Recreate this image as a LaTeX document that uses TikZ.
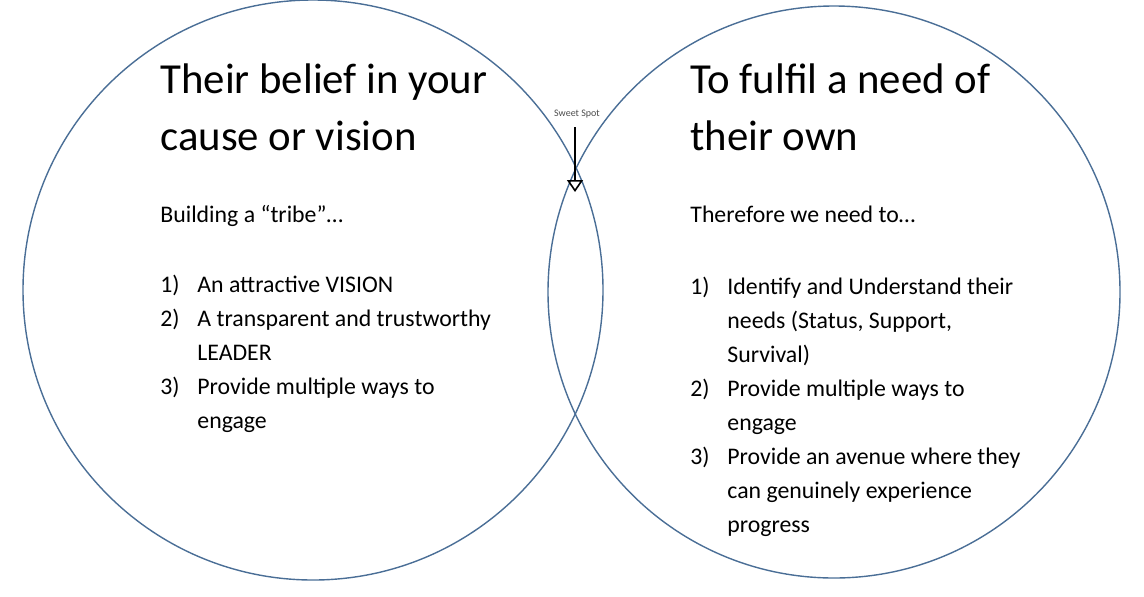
\documentclass[tikz,border=0pt]{standalone}
\usepackage{fontspec}
\setmainfont{Carlito}
\usetikzlibrary{positioning, arrows.meta}
\definecolor{ringblue}{RGB}{74,110,150}
\tikzset{
  ring/.style={draw=ringblue, line width=0.7pt},
  head/.style={anchor=base west, align=left, inner sep=0pt, font=\fontsize{21.4}{28.5}\selectfont},
  body/.style={anchor=base west, align=left, inner sep=0pt, font=\fontsize{11.9}{17}\selectfont},
}
\begin{document}
\begin{tikzpicture}[x=0.5pt, y=-0.5pt]
    \useasboundingbox (0, 0) rectangle (1144, 596);
    \path (313, 290) node[ring, circle, minimum size=290pt, inner sep=0pt](Belief){};
    \path (834, 292) node[ring, circle, minimum size=286pt, inner sep=0pt](Need){};
    % left circle
    \path (160, 150) node[head](BeliefHead){Their belief in your\\cause or vision};
    \path (160, 222) node[body](Tribe){Building a “tribe”…};
    \path (160, 394) node[body](LNum){1)\\2)\\\\3)};
    \path (197, 428) node[body](LItems){An attractive VISION\\A transparent and trustworthy\\LEADER\\Provide multiple ways to\\engage};
    % right circle
    \path (690, 150) node[head](NeedHead){To fulfil a need of\\their own};
    \path (690, 222) node[body](Therefore){Therefore we need to…};
    \path (690, 464) node[body](RNum){1)\\\\\\2)\\\\3)};
    \path (727, 532) node[body](RItems){Identify and Understand their\\needs (Status, Support,\\Survival)\\Provide multiple ways to\\engage\\Provide an avenue where they\\can genuinely experience\\progress};
    % sweet spot
    \path (577, 114) node[font=\fontsize{5}{6}\selectfont, text=black!70](Sweet){Sweet Spot};
    \coordinate (Spot) at (575, 192);
    \draw[-{Triangle[open, length=6pt, width=8pt]}, line width=0.8pt] (Sweet.south) ++(-2, 2) -- (Spot);
\end{tikzpicture}
\end{document}
